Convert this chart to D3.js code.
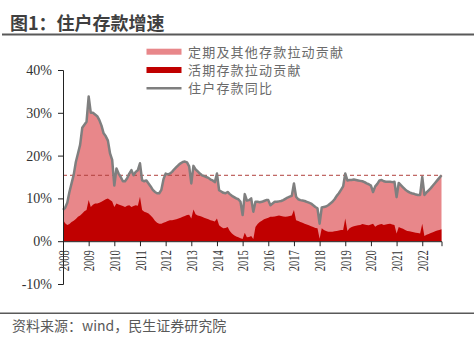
<!DOCTYPE html>
<html><head><meta charset="utf-8">
<script src="https://cdn.jsdelivr.net/npm/d3@7"></script>
<style>body{margin:0;background:#fff}svg{display:block}</style>
</head><body>
<svg id="c" width="474" height="344"></svg>
<script>
// ---- data (monthly, Jan 2008 .. Oct 2022) ----
const startYear = 2008;
const yearLabels = ["2008","2009","2010","2011","2012","2013","2014","2015","2016","2017","2018","2019","2020","2021","2022"];
const yTickValues = [-10, 0, 10, 20, 30, 40];
const seriesNames = ["定期及其他存款拉动贡献", "活期存款拉动贡献", "住户存款同比"];
// 住户存款同比 (%)
const totalYoY = [
  7.3, 7.8, 9.0, 11.5, 13.5, 15.5, 18.5, 20.5, 22.5, 26.5, 27.2, 27.9,
  33.8, 30.0, 30.0, 29.6, 29.2, 28.3, 27.0, 25.2, 24.5, 23.5, 20.5, 19.0,
  13.0, 17.0, 15.8, 15.0, 14.0, 14.0, 14.7, 15.8, 16.6, 15.4, 16.2, 16.6,
  18.2, 14.2, 14.0, 14.2, 13.5, 12.8, 12.0, 11.5, 11.2, 11.2, 12.0, 14.5,
  15.8, 15.6, 15.8, 16.2, 16.8, 17.3, 17.8, 18.2, 18.5, 18.6, 18.4, 17.5,
  13.5, 17.6, 16.8, 16.3, 15.8, 15.4, 15.2, 15.0, 14.8, 14.4, 14.2, 13.8,
  15.8, 11.9, 11.6, 11.3, 11.2, 11.5, 11.0, 10.6, 10.3, 10.0, 9.8, 9.2,
  6.1, 11.0, 9.5, 9.6, 10.0, 6.9, 9.2, 9.2, 9.1, 9.2, 9.4, 9.6,
  9.6, 8.4, 8.8, 9.2, 9.2, 9.3, 9.4, 9.6, 9.9, 10.2, 10.4, 10.6,
  13.5, 10.4, 9.8, 9.6, 9.5, 9.4, 9.2, 9.0, 8.8, 8.4, 8.0, 7.7,
  4.1, 7.9, 8.0, 8.1, 8.4, 8.8, 9.2, 9.8, 10.6, 11.2, 12.0, 12.8,
  15.8, 14.2, 14.3, 14.3, 14.4, 14.3, 14.2, 14.1, 14.0, 13.8, 13.5, 13.3,
  13.0, 11.5, 12.8, 13.4, 14.2, 14.3, 14.0, 13.9, 13.9, 13.9, 13.8, 13.9,
  10.3, 13.6, 13.1, 12.6, 12.1, 11.7, 11.4, 11.2, 11.1, 10.9, 10.8, 10.8,
  15.0, 10.8, 11.4, 11.9, 12.4, 13.0, 13.6, 14.2, 14.8, 15.4
];
// 活期存款拉动贡献 (%)
const demandContrib = [
  5.0, 4.2, 3.8, 4.0, 4.5, 4.8, 5.2, 5.7, 6.0, 6.5, 7.0, 7.3,
  9.6, 8.0, 8.5, 8.8, 8.8, 9.0, 9.2, 9.5, 9.8, 10.0, 9.6, 9.3,
  8.0, 8.8, 8.6, 8.4, 8.2, 8.0, 8.3, 8.4, 8.0, 8.2, 8.4, 8.3,
  10.4, 7.3, 6.9, 6.7, 6.5, 6.0, 5.5, 4.8, 4.3, 4.1, 4.1, 4.3,
  4.5, 4.7, 4.9, 4.9, 5.0, 5.1, 5.3, 5.5, 5.7, 5.9, 6.1, 6.2,
  5.3, 7.4, 6.3, 6.0, 5.9, 5.7, 5.5, 5.3, 5.1, 4.9, 4.8, 4.6,
  5.3, 3.7, 3.3, 3.0, 3.1, 3.3, 2.4, 1.8, 1.4, 1.1, 0.9, 0.7,
  0.5, 2.0, 0.9, 1.0, 1.2, 0.5, 3.3, 4.0, 4.5, 4.8, 5.1, 5.3,
  5.5, 5.7, 5.7, 5.8, 5.9, 6.0, 5.9, 5.8, 5.7, 5.8, 5.9, 6.0,
  7.3, 4.9, 4.7, 4.5, 4.3, 4.1, 3.9, 3.7, 3.5, 3.3, 3.1, 3.0,
  0.6, 3.0, 2.6, 2.4, 2.2, 2.2, 2.2, 2.3, 2.4, 2.5, 2.6, 2.6,
  5.3, 2.4, 3.0, 3.3, 3.5, 3.6, 3.7, 3.8, 4.0, 3.9, 3.8, 3.7,
  3.9, 4.1, 3.4, 3.7, 3.9, 4.0, 3.8, 3.9, 4.0, 4.1, 3.9, 3.8,
  1.8, 3.3, 3.1, 2.9, 2.6, 2.4, 2.3, 2.2, 2.1, 2.0, 1.9, 1.8,
  4.1, 1.2, 1.5, 1.7, 1.9, 2.1, 2.3, 2.5, 2.6, 2.8
];

// ---- drawing ----
const svg = d3.select("#c");
const data = totalYoY.map((t, i) => ({ t: startYear + i / 12, total: t, demand: demandContrib[i] }));
const lastT = data[data.length - 1].t;

const x = d3.scaleLinear().domain([startYear, lastT]).range([63, 441.5]);
const y = d3.scaleLinear().domain([-10, 40]).range([284, 70]);

const cPink = "#e8878a", cRed = "#c00000", cGray = "#7f7f7f";

// title
svg.append("text").attr("x", 10).attr("y", 30)
  .attr("font-family", "'Noto Sans CJK SC', sans-serif").attr("font-weight", "bold")
  .attr("font-size", 18).attr("fill", "#3f3f3f").text("图1：住户存款增速");
svg.append("line").attr("x1", 2).attr("x2", 474).attr("y1", 34.5).attr("y2", 34.5)
  .attr("stroke", "#595959").attr("stroke-width", 2);

// areas
svg.append("path").datum(data)
  .attr("fill", cPink)
  .attr("d", d3.area().x(d => x(d.t)).y0(y(0)).y1(d => y(d.total)));
svg.append("path").datum(data)
  .attr("fill", cRed)
  .attr("d", d3.area().x(d => x(d.t)).y0(y(0)).y1(d => y(d.demand)));

// dashed reference at latest value
const lastVal = totalYoY[totalYoY.length - 1];
svg.append("line").attr("x1", x(startYear)).attr("x2", x(lastT))
  .attr("y1", y(lastVal)).attr("y2", y(lastVal))
  .attr("stroke", "#b0403c").attr("stroke-width", 1).attr("stroke-dasharray", "4,3");

// total line
svg.append("path").datum(data)
  .attr("fill", "none").attr("stroke", cGray).attr("stroke-width", 2.5)
  .attr("stroke-linejoin", "round")
  .attr("d", d3.line().x(d => x(d.t)).y(d => y(d.total)));

// y axis
const yAxis = svg.append("g").attr("transform", `translate(${x(startYear)},0)`)
  .call(d3.axisLeft(y).tickValues(yTickValues).tickSizeOuter(0).tickSize(5).tickPadding(6)
    .tickFormat(d => d + "%"));
yAxis.selectAll("text").attr("font-family", "'Liberation Serif', serif").attr("font-size", 14).attr("fill", "#333");
yAxis.selectAll("line,path").attr("stroke", "#222");

// x axis
const yearTicks = yearLabels.map(Number);
const xAxis = svg.append("g").attr("transform", `translate(0,${y(0)})`)
  .call(d3.axisBottom(x).tickValues(yearTicks).tickSizeOuter(0).tickSize(5).tickFormat((d, i) => yearLabels[i]));
xAxis.selectAll("line,path").attr("stroke", "#222");
xAxis.selectAll("text")
  .attr("font-family", "'Liberation Serif', serif").attr("font-size", 10.5).attr("fill", "#333")
  .attr("text-anchor", "end").attr("dy", null).attr("y", 0)
  .attr("transform", "translate(0,9) rotate(-90) scale(1,1.4) translate(0,3.6)");

// legend
const lg = svg.append("g");
const rows = [
  { name: seriesNames[0], type: "rect", color: cPink, cy: 51.7 },
  { name: seriesNames[1], type: "rect", color: cRed, cy: 70 },
  { name: seriesNames[2], type: "line", color: cGray, cy: 88.3 }
];
rows.forEach(r => {
  if (r.type === "rect") {
    lg.append("rect").attr("x", 146.5).attr("y", r.cy - 3).attr("width", 35).attr("height", 6).attr("fill", r.color);
  } else {
    lg.append("line").attr("x1", 146.5).attr("x2", 181.5).attr("y1", r.cy).attr("y2", r.cy)
      .attr("stroke", r.color).attr("stroke-width", 2.5);
  }
  lg.append("text").attr("x", 188).attr("y", r.cy + 5)
    .attr("font-family", "'Noto Sans CJK SC', sans-serif").attr("font-size", 13)
    .attr("letter-spacing", "1.2px").attr("fill", "#6a6a6a").text(r.name);
});

// footer
svg.append("line").attr("x1", 0).attr("x2", 474).attr("y1", 313.3).attr("y2", 313.3)
  .attr("stroke", "#595959").attr("stroke-width", 1.5);
svg.append("text").attr("x", 12).attr("y", 331)
  .attr("font-family", "'Noto Sans CJK SC', sans-serif").attr("font-size", 14)
  .attr("fill", "#595959").text("资料来源：wind，民生证券研究院");
</script>
</body></html>
